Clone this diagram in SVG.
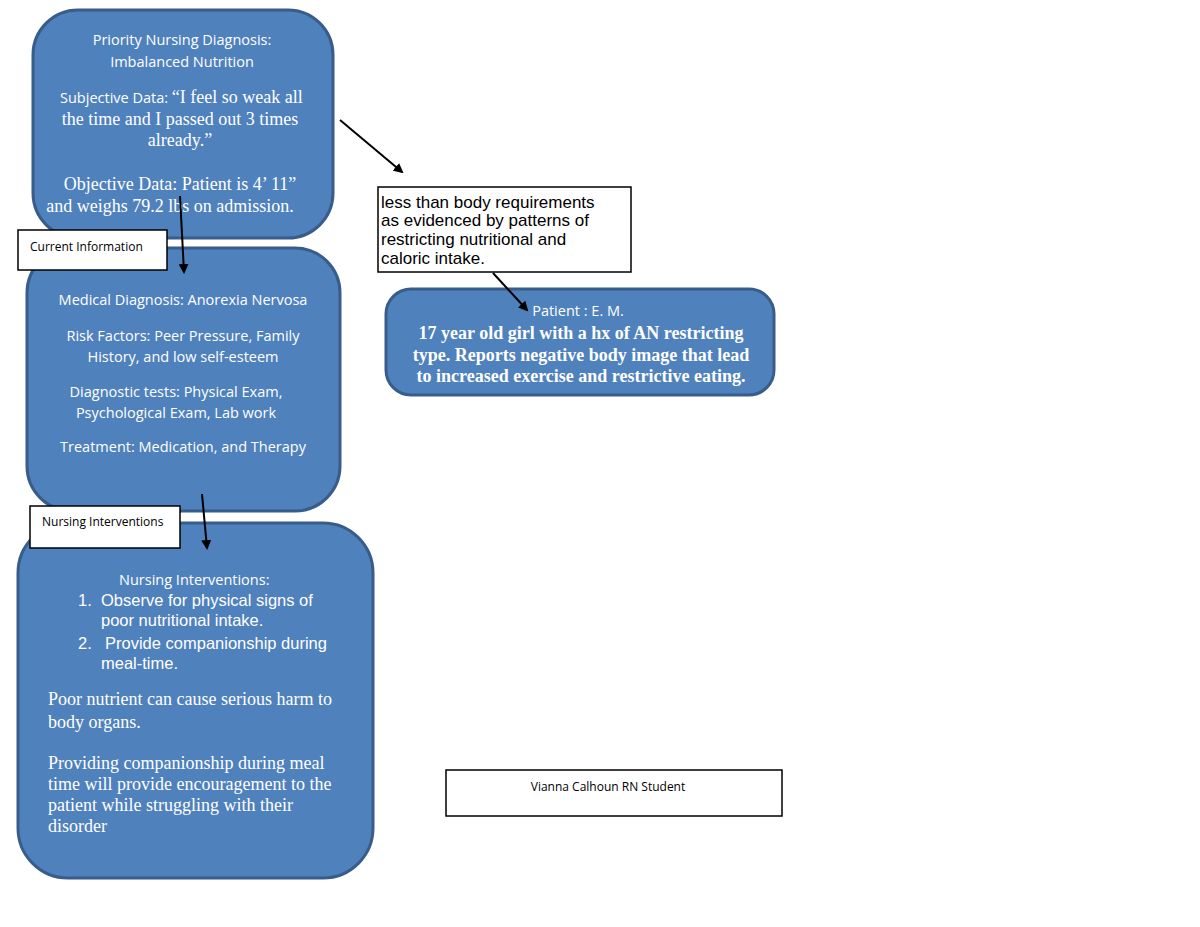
<svg xmlns="http://www.w3.org/2000/svg" width="1200" height="927" viewBox="0 0 1200 927">
<style>
.node{fill:#4F81BD;stroke:#385D8A;stroke-width:3}
.lbl{fill:#fff;stroke:#000;stroke-width:1.5}
.c{font-family:"Open Sans","Liberation Sans",sans-serif;font-size:14.5px;fill:#fff}
.s{font-family:"Liberation Serif",serif;font-size:18px;fill:#fff}
.a{font-family:"Liberation Sans",Arial,sans-serif;font-size:16.5px;fill:#fff}
.k{font-family:"Open Sans","Liberation Sans",sans-serif;font-size:12px;fill:#000}
.ak{font-family:"Liberation Sans",Arial,sans-serif;font-size:17px;fill:#000}
.cb{font-family:"Liberation Serif",serif;font-size:18px;font-weight:bold;fill:#fff}
</style>
<defs><marker id="ah" markerWidth="10" markerHeight="10" refX="8" refY="5" orient="auto" markerUnits="userSpaceOnUse"><path d="M0,0 L10,5 L0,10z" fill="#000"/></marker></defs>
<rect width="1200" height="927" fill="#fff"/>
<g id="n1"><rect class="node" x="33" y="10" width="300" height="228" rx="45"/>
<text class="c" text-anchor="middle"><tspan x="182" y="45">Priority Nursing Diagnosis:</tspan><tspan x="182" y="67">Imbalanced Nutrition</tspan></text>
<text class="s" x="60" y="103"><tspan class="c">Subjective Data: </tspan>“I feel so weak all</text>
<text class="s" text-anchor="middle"><tspan x="180" y="125">the time and I passed out 3 times</tspan><tspan x="180" y="146">already.”</tspan><tspan x="180" y="190">Objective Data: Patient is 4’ 11”</tspan><tspan x="170" y="212">and weighs 79.2 lbs on admission.</tspan></text></g>
<g id="n2"><rect class="node" x="27" y="248" width="313" height="263" rx="45"/>
<text class="c" text-anchor="middle"><tspan x="183" y="305">Medical Diagnosis: Anorexia Nervosa</tspan><tspan x="183" y="341">Risk Factors: Peer Pressure, Family</tspan><tspan x="183" y="362">History, and low self-esteem</tspan><tspan x="176" y="397">Diagnostic tests: Physical Exam,</tspan><tspan x="176" y="418">Psychological Exam, Lab work</tspan><tspan x="183" y="452">Treatment: Medication, and Therapy</tspan></text></g>
<g id="n3"><rect class="node" x="18" y="523" width="355" height="355" rx="50"/>
<text class="c" x="119" y="585">Nursing Interventions:</text>
<text class="a"><tspan x="78" y="606">1.</tspan><tspan x="101" y="606">Observe for physical signs of</tspan><tspan x="101" y="626">poor nutritional intake.</tspan><tspan x="78" y="649">2.</tspan><tspan x="105" y="649">Provide companionship during</tspan><tspan x="101" y="669">meal-time.</tspan></text>
<text class="s"><tspan x="48" y="705">Poor nutrient can cause serious harm to</tspan><tspan x="48" y="728">body organs.</tspan><tspan x="48" y="769">Providing companionship during meal</tspan><tspan x="48" y="790">time will provide encouragement to the</tspan><tspan x="48" y="811">patient while struggling with their</tspan><tspan x="48" y="832">disorder</tspan></text></g>
<g id="n4"><rect class="node" x="386" y="289" width="388" height="106" rx="25"/>
<text text-anchor="middle"><tspan class="c" x="578" y="316">Patient : E. M.</tspan><tspan class="cb" x="581" y="339">17 year old girl with a hx of AN restricting</tspan><tspan class="cb" x="581" y="361">type. Reports negative body image that lead</tspan><tspan class="cb" x="581" y="382">to increased exercise and restrictive eating.</tspan></text></g>
<g id="n5"><rect class="lbl" x="378" y="187" width="253" height="85"/>
<text class="ak"><tspan x="381" y="208">less than body requirements</tspan><tspan x="381" y="226">as evidenced by patterns of</tspan><tspan x="381" y="245">restricting nutritional and</tspan><tspan x="381" y="264">caloric intake.</tspan></text></g>
<g id="n6"><rect class="lbl" x="18" y="230" width="149" height="40"/><text class="k" x="30" y="251">Current Information</text></g>
<g id="n7"><rect class="lbl" x="30" y="506" width="150" height="42"/><text class="k" x="42" y="526">Nursing Interventions</text></g>
<g id="n8"><rect class="lbl" x="446" y="770" width="336" height="46"/><text class="k" x="608" y="791" text-anchor="middle" font-size="15">Vianna Calhoun RN Student</text></g>
<g id="edges" stroke="#000" stroke-width="2" marker-end="url(#ah)">
<line x1="340" y1="120" x2="402" y2="172"/>
<line x1="180" y1="196" x2="184" y2="272"/>
<line x1="202" y1="494" x2="207" y2="548"/>
<line x1="493" y1="273" x2="527" y2="310"/>
</g>
</svg>
